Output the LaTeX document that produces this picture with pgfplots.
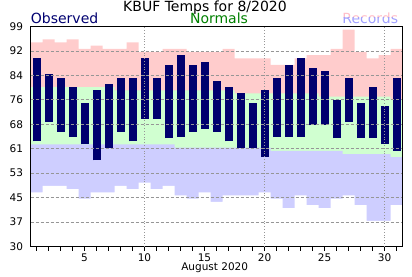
\documentclass[border=0pt]{standalone}
\usepackage{pgfplots}
\pgfplotsset{compat=1.18}
\usepackage{pgfplotstable}
\usepackage{fontspec}
\setmainfont{DejaVu Sans}
\definecolor{pinkband}{RGB}{255,204,204}
\definecolor{greenband}{RGB}{208,255,208}
\definecolor{blueband}{RGB}{206,206,255}
\definecolor{navybar}{RGB}{0,0,110}
\definecolor{obstext}{RGB}{0,0,112}
\definecolor{normtext}{RGB}{0,128,0}
\definecolor{recpink}{RGB}{255,190,200}
\definecolor{reclav}{RGB}{160,160,255}
\definecolor{gridgray}{RGB}{150,150,150}
\pgfplotstableread{
x rh nh nl rl
0.5 94 80 62 47
1.5 95 80 62 49
2.5 94 80 62 49
3.5 95 80 62 48
4.5 92 80 62 45
5.5 93 80 62 47
6.5 92 80 62 47
7.5 92 79 62 49
8.5 94 79 62 48
9.5 91 79 62 50
10.5 91 79 62 48
11.5 92 79 62 49
12.5 92 79 61 46
13.5 91 79 61 45
14.5 91 79 61 47
15.5 91 79 61 44
16.5 92 79 61 46
17.5 89 78 61 46
18.5 89 78 61 46
19.5 89 78 61 47
20.5 87 78 60 45
21.5 87 78 60 42
22.5 89 78 60 46
23.5 90 78 60 43
24.5 90 77 60 42
25.5 92 77 60 45
26.5 98 77 59 46
27.5 91 77 59 43
28.5 89 77 59 38
29.5 90 77 59 38
30.5 92 76 58 43
31.5 92 76 58 43
}\bands
\pgfplotstableread{
d hi lo
1 89 63
2 84 69
3 83 66
4 80 64.5
5 75 62
6 79 57
7 81 61
8 83 66
9 83 63
10 89 70
11 83 70
12 87 64
13 90 64.5
14 87 66
15 88 67
16 82 66
17 80 63
18 78 61
19 75 61
20 79 58
21 83 64.5
22 87 64.5
23 89 64.5
24 86 68
25 85 68
26 76 64
27 83 69
28 75 64
29 80 64
30 74 62
31 83 60
}\obs
\begin{document}
\begin{tikzpicture}
\begin{axis}[
  name=ax,
  anchor=south west,
  scale only axis, width=372pt, height=220pt,
  xmin=0.5, xmax=31.5, ymin=30, ymax=99,
  axis on top,
  axis line style={line width=1.2pt, black},
  font=\fontsize{10.5}{12}\selectfont,
  /pgf/number format/assume math mode=true,
  xtick={5,10,15,20,25,30},
  xticklabels={5,10,15,20,25,30},
  minor xtick={1,...,31},
  xtick pos=bottom,
  tick align=outside,
  major tick length=4pt, minor tick length=4pt,
  x tick style={line width=0.8pt, black},
  ytick={30,37.6667,45.3333,53,60.6667,68.3333,76,83.6667,91.3333,99},
  yticklabels={30,37,45,53,61,68,76,84,92,99},
  y tick style={draw=none},
  ymajorgrids=true,
  major grid style={gridgray, line width=0.8pt, dash pattern=on 3pt off 2pt},
  extra x ticks={10,20,30},
  extra x tick labels={},
  extra x tick style={grid=major, major grid style={gridgray, line width=0.8pt, dotted}, major tick length=0pt},
]
\addplot[draw=none, fill=pinkband, const plot mark left] table[x=x, y=rh] {\bands} \closedcycle;
\addplot[draw=none, fill=greenband, const plot mark left] table[x=x, y=nh] {\bands} \closedcycle;
\addplot[draw=none, fill=blueband, const plot mark left] table[x=x, y=nl] {\bands} \closedcycle;
\addplot[draw=none, fill=white, const plot mark left] table[x=x, y=rl] {\bands} \closedcycle;
\addplot[draw=none, mark=none,
  error bars/.cd, y dir=plus, y explicit, error mark=none,
  error bar style={draw=navybar, line width=8pt}]
  table[x=d, y=lo, y error expr=\thisrow{hi}-\thisrow{lo}] {\obs};
\end{axis}
\begin{scope}[shift={(ax.south west)}, x=1pt, y=1pt, shift={(-30.5,-29.5)}]
\node[anchor=base, font=\fontsize{14}{16}\selectfont] at (205,264.3) {KBUF Temps for 8/2020};
\node[anchor=base west, inner sep=0pt, text=obstext, font=\fontsize{14}{16}\selectfont] at (30.7,252) {Observed};
\node[anchor=base, inner sep=0pt, text=normtext, font=\fontsize{14}{16}\selectfont] at (219,252) {Normals};
\begin{scope}
\clip (300,258.5) rectangle (412,276);
\node[anchor=base east, inner sep=0pt, text=recpink, font=\fontsize{14}{16}\selectfont] at (398.3,252) {Records};
\end{scope}
\begin{scope}
\clip (300,240) rectangle (412,258.5);
\node[anchor=base east, inner sep=0pt, text=reclav, font=\fontsize{14}{16}\selectfont] at (398.3,252) {Records};
\end{scope}
\node[anchor=base, inner sep=0pt, font=\fontsize{10.5}{12}\selectfont] at (214.7,5.3) {August 2020};
\pgfresetboundingbox
\path[use as bounding box] (0,0) rectangle (412,276);
\end{scope}
\end{tikzpicture}
\end{document}
